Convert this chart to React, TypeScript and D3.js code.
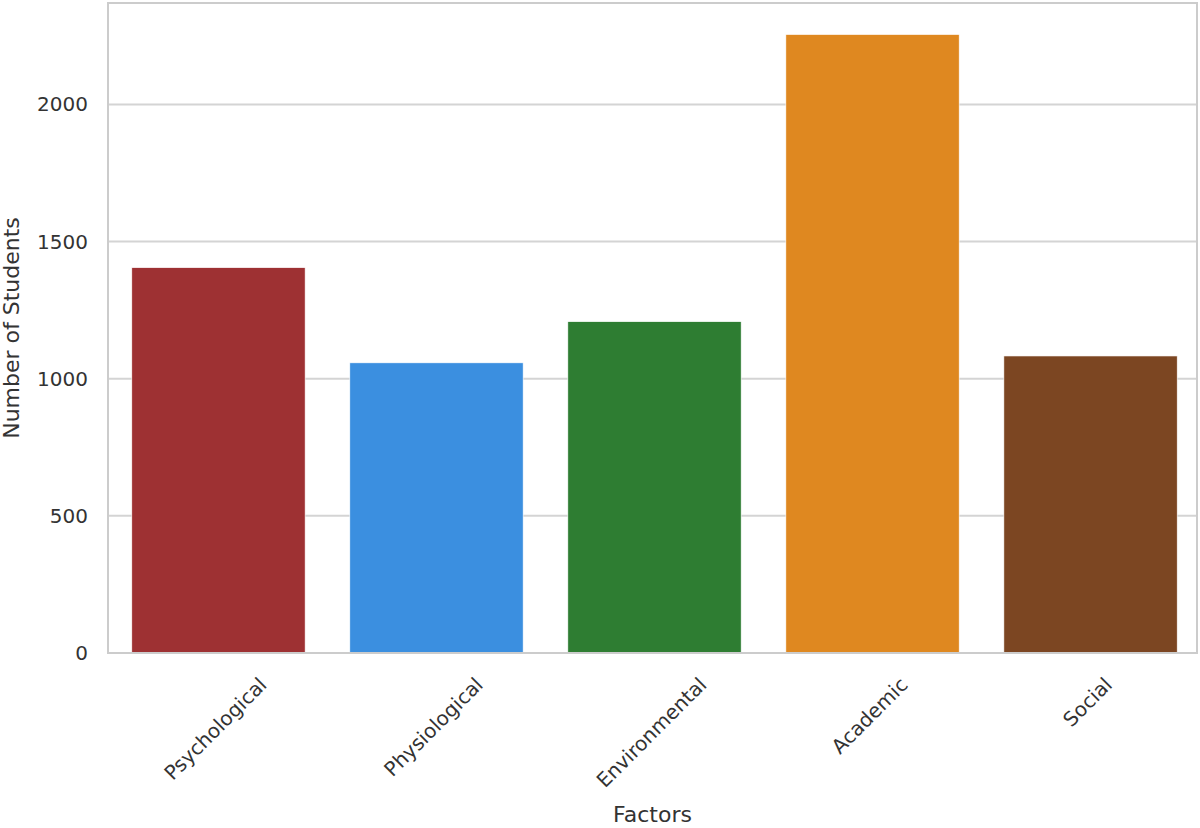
import { useEffect, useRef } from "react";
import * as d3 from "d3";

const width = 1200;
const height = 828;

const factors = ["Psychological", "Physiological", "Environmental", "Academic", "Social"];
const students = [1405, 1058, 1208, 2255, 1083];
const barColors = ["#9e3133", "#3b8fe0", "#2e7d32", "#df8820", "#7c4622"];
const yTicks = [0, 500, 1000, 1500, 2000];

const left = 108;
const right = 1197;
const top = 3;
const bottom = 653;
const font = "'DejaVu Sans', sans-serif";

function App() {
  const ref = useRef<SVGSVGElement | null>(null);

  useEffect(() => {
    const svg = d3.select(ref.current);
    svg.selectAll("*").remove();

    const x = d3.scaleBand().domain(factors).range([left + 2, right + 2]).paddingInner(0.205).paddingOuter(0.1);
    const y = d3.scaleLinear().domain([0, 2370]).range([bottom, top]);

    svg.append("rect").attr("width", width).attr("height", height).attr("fill", "#fff");

    // grid
    svg.append("g")
      .selectAll("line")
      .data(yTicks)
      .join("line")
      .attr("x1", left)
      .attr("x2", right)
      .attr("y1", (d) => y(d))
      .attr("y2", (d) => y(d))
      .attr("stroke", "#d4d4d4")
      .attr("stroke-width", 2);

    // bars
    svg.append("g")
      .selectAll("rect")
      .data(factors)
      .join("rect")
      .attr("x", (d) => x(d)!)
      .attr("width", x.bandwidth())
      .attr("y", (d, i) => y(students[i]))
      .attr("height", (d, i) => y(0) - y(students[i]))
      .attr("fill", (d, i) => barColors[i])
      .attr("stroke", "#fff")
      .attr("stroke-width", 0.6);

    // frame
    svg.append("rect")
      .attr("x", left)
      .attr("y", top)
      .attr("width", right - left)
      .attr("height", bottom - top)
      .attr("fill", "none")
      .attr("stroke", "#cccccc")
      .attr("stroke-width", 2);

    // y tick labels
    svg.append("g")
      .selectAll("text")
      .data(yTicks)
      .join("text")
      .attr("x", 88)
      .attr("y", (d) => y(d))
      .attr("text-anchor", "end")
      .attr("dominant-baseline", "central")
      .attr("font-family", font)
      .attr("font-size", 20)
      .attr("fill", "#333")
      .text((d) => d);

    // x tick labels, rotated 45deg, bbox centred under the bar
    const xl = svg.append("g")
      .selectAll("text")
      .data(factors)
      .join("text")
      .attr("text-anchor", "middle")
      .attr("dominant-baseline", "central")
      .attr("font-family", font)
      .attr("font-size", 20)
      .attr("fill", "#333")
      .text((d) => d);
    xl.each(function (d) {
      const el = this as SVGTextElement;
      const w = el.getComputedTextLength();
      const cx = x(d)! + x.bandwidth() / 2 - 3;
      const cy = 675 + 0.3536 * (w + 17);
      d3.select(el).attr("transform", `translate(${cx},${cy}) rotate(-45)`);
    });

    // axis titles
    svg.append("text")
      .attr("x", (left + right) / 2)
      .attr("y", 822)
      .attr("text-anchor", "middle")
      .attr("font-family", font)
      .attr("font-size", 22)
      .attr("fill", "#333")
      .text("Factors");

    svg.append("text")
      .attr("transform", `translate(19,${(top + bottom) / 2}) rotate(-90)`)
      .attr("text-anchor", "middle")
      .attr("font-family", font)
      .attr("font-size", 22)
      .attr("fill", "#333")
      .text("Number of Students");
  }, []);

  return (
    <svg
      ref={ref}
      width={width}
      height={height}
      style={{ position: "absolute", left: 0, top: 0, display: "block" }}
    />
  );
}

export default App;
